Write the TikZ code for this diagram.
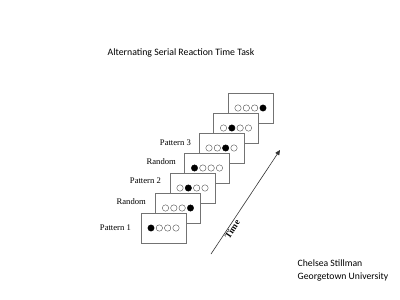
\documentclass[tikz,border=0pt]{standalone}
\usepackage{fontspec}
\setmainfont{Liberation Serif}
\newfontfamily\calfont{Carlito}
\usetikzlibrary{arrows.meta,calc}
\begin{document}
\begin{tikzpicture}[x=1pt,y=-1pt,
  card/.style={draw=black!55, fill=white, line width=0.6pt, minimum width=45pt, minimum height=30pt, inner sep=0pt},
  dot/.style={circle, draw=black!70, line width=0.4pt, minimum size=6.4pt, inner sep=0pt},
  full/.style={dot, fill=black, draw=black},
  lab/.style={anchor=east, font=\fontsize{8.6}{9.5}\selectfont, inner sep=0pt}]
\useasboundingbox (0,0) rectangle (400,300);
\fill[white] (0,0) rectangle (400,300);
\node[font=\calfont\fontsize{9.8}{11}\selectfont, inner sep=0pt] (title) at (181,52.7) {Alternating Serial Reaction Time Task};
\foreach \k/\f in {6/4,5/2,4/3,3/1,2/2,1/4,0/1} {
  \node[card] (b\k) at ({163.5+14.5*\k},{228-20*\k}) {};
  \foreach \i in {1,...,4} {
    \ifnum\i=\f\relax
      \node[full] (c\k\i) at ($(b\k.center)+({(\i-2.5)*8.33},0)$) {};
    \else
      \node[dot] (c\k\i) at ($(b\k.center)+({(\i-2.5)*8.33},0)$) {};
    \fi
  }
}
\node[lab] (l1) at (131,228) {Pattern 1};
\node[lab] (l2) at (146,201.5) {Random};
\node[lab] (l3) at (161,181) {Pattern 2};
\node[lab] (l4) at (176,162) {Random};
\node[lab] (l5) at (191,142.5) {Pattern 3};
\coordinate (ts) at (211,254);
\coordinate (te) at (280,150);
\draw[line width=0.6pt, black!80, -{Triangle[length=5pt,width=4.5pt]}] (ts) -- (te)
  node[pos=0.26, sloped, below, inner sep=0.5pt, font=\bfseries\fontsize{9}{10}\selectfont, text=black] (time) {Time};
\node[anchor=west, align=left, inner sep=0pt, font=\calfont\fontsize{9.7}{13.3}\selectfont] (credit) at (297.5,270.7) {Chelsea Stillman\\Georgetown University};
\end{tikzpicture}
\end{document}
